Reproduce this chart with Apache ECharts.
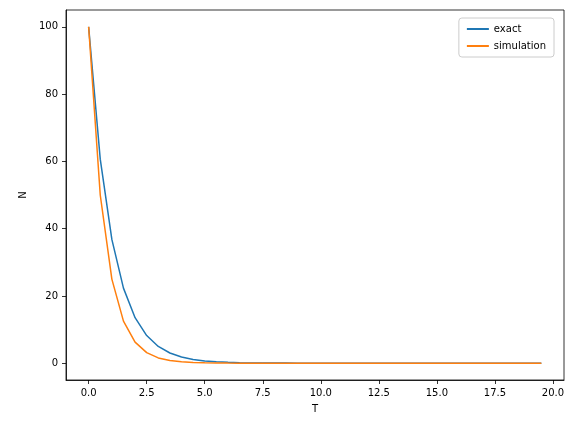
<!DOCTYPE html>
<html><head><meta charset="utf-8">
<script src="https://cdn.jsdelivr.net/npm/echarts@6/dist/echarts.min.js"></script>
<style>html,body{margin:0;padding:0;background:#fff}</style>
</head><body><div id="c" style="width:576px;height:432px"></div>
<script>
const T = [0,0.5,1,1.5,2,2.5,3,3.5,4,4.5,5,5.5,6,6.5,7,7.5,8,8.5,9,9.5,10,10.5,11,11.5,12,12.5,13,13.5,14,14.5,15,15.5,16,16.5,17,17.5,18,18.5,19,19.5];
const exact = [100,60.65,36.79,22.31,13.53,8.21,4.98,3.02,1.83,1.11,0.67,0.41,0.25,0.15,0.09,0.06,0.03,0.02,0.01,0.01,0,0,0,0,0,0,0,0,0,0,0,0,0,0,0,0,0,0,0,0];
const simulation = [100,50,25,12.5,6.25,3.13,1.56,0.78,0.39,0.2,0.1,0.05,0.02,0.01,0.01,0,0,0,0,0,0,0,0,0,0,0,0,0,0,0,0,0,0,0,0,0,0,0,0,0];
const xTicks = [0,2.5,5,7.5,10,12.5,15,17.5,20];
const yTicks = [0,20,40,60,80,100];
const font = 'DejaVu Sans';
const chart = echarts.init(document.getElementById('c'));
const ax = {
  axisLine:{show:true,onZero:false,lineStyle:{color:'#000',width:0.8}},
  axisTick:{show:true,length:4,lineStyle:{color:'#000',width:0.8}},
  axisLabel:{color:'#000',fontFamily:font,fontSize:10},
  splitLine:{show:false}
};
chart.setOption({
  animation:false,
  grid:{left:66,right:12,top:10,bottom:52,show:true,borderColor:'#000',borderWidth:0.8},
  legend:{right:22,top:18,orient:'vertical',itemWidth:22,itemHeight:2,icon:'rect',itemGap:7,
    borderColor:'#ccc',borderWidth:1,borderRadius:3,padding:[6,8],
    textStyle:{fontFamily:font,fontSize:10,color:'#000'},data:['exact','simulation']},
  xAxis:{type:'value',min:-0.975,max:20.475,name:'T',nameLocation:'middle',nameGap:24,
    nameTextStyle:{fontFamily:font,fontSize:10,color:'#000'},...ax,
    axisTick:{...ax.axisTick,customValues:xTicks},
    axisLabel:{...ax.axisLabel,customValues:xTicks,formatter:v=>v.toFixed(1)}},
  yAxis:{type:'value',min:-5,max:105,name:'N',nameLocation:'middle',nameGap:38,
    nameTextStyle:{fontFamily:font,fontSize:10,color:'#000'},...ax,
    axisTick:{...ax.axisTick,customValues:yTicks},
    axisLabel:{...ax.axisLabel,customValues:yTicks}},
  series:[
    {name:'exact',type:'line',showSymbol:false,data:T.map((t,i)=>[t,exact[i]]),lineStyle:{color:'#1f77b4',width:1.5},itemStyle:{color:'#1f77b4'}},
    {name:'simulation',type:'line',showSymbol:false,data:T.map((t,i)=>[t,simulation[i]]),lineStyle:{color:'#ff7f0e',width:1.5},itemStyle:{color:'#ff7f0e'}}
  ]
});
</script></body></html>
